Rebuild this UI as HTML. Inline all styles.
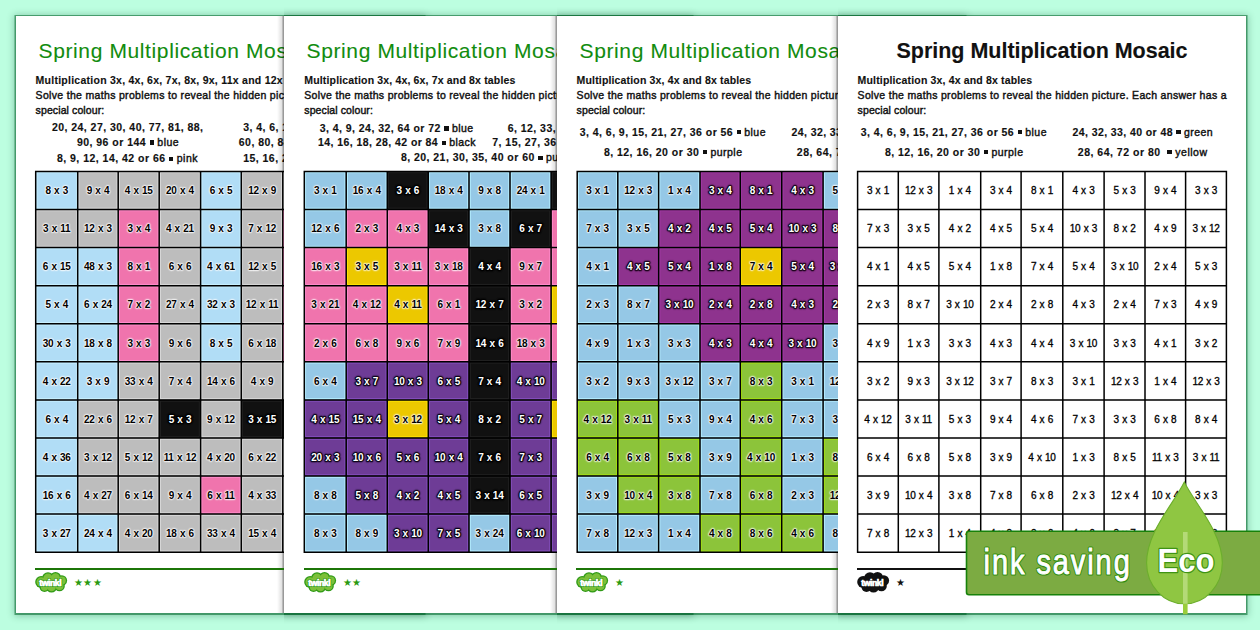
<!DOCTYPE html><html><head><meta charset="utf-8"><style>
*{margin:0;padding:0;box-sizing:border-box}
html,body{width:1260px;height:630px;overflow:hidden;background:#bcfee0;font-family:"Liberation Sans",sans-serif}
body{position:relative}
.pg{position:absolute;top:16px;width:408px;height:597px;background:#fff;overflow:hidden}
.psh{position:absolute;top:16px;width:408px;height:597px;box-shadow:0 0.5px 0 1.5px rgba(0,100,40,.55),0 1px 7px 2px rgba(20,80,50,.32)}
.lsh{position:absolute;top:16px;width:7px;height:597px;background:linear-gradient(to right,rgba(0,0,0,0),rgba(0,0,0,.12) 70%,rgba(0,0,0,.4) 86%,rgba(0,0,0,.4))}
.t{position:absolute;white-space:nowrap;line-height:1;-webkit-text-stroke:0.42px currentColor}
.t b{font-weight:bold;-webkit-text-stroke:0.15px currentColor}
.tb{-webkit-text-stroke:0.12px currentColor}
.sq{display:inline-block;width:0.42em;height:0.42em;background:#111;vertical-align:0.12em}
.gsv{position:absolute;overflow:visible}
.gsv text{font-family:"Liberation Sans",sans-serif;font-weight:bold;font-size:10.0px;text-anchor:middle;letter-spacing:-0.3px;word-spacing:0.9px}
.gsv .lt{fill:#000;stroke:rgba(255,255,255,.3);stroke-width:1.4px;paint-order:stroke;stroke-linejoin:round}
.gsv .bw{fill:#000;font-weight:normal;stroke:#000;stroke-width:.3px}
.gsv .dk{fill:#fff;stroke:#000;stroke-width:1.3px;paint-order:stroke;stroke-linejoin:round}
.gsv .dv2{stroke:#240a48;stroke-width:1.1px}
.gsv .dv3{stroke:#4a0a4a;stroke-width:1.1px}
.c{position:absolute;font-size:10px;font-weight:bold;display:flex;align-items:center;justify-content:center;line-height:1}
.lt{color:#000;text-shadow:0 0 2px #fff,0 0 2px #fff}
.bw{color:#000}
.dk{color:#fff;text-shadow:0 0 1.5px #000,0 0 1.5px #000,0 0 1px #000}
.fl{position:absolute;left:19px;top:552.3px;width:370px;height:1.8px}
.logo{position:absolute;left:19.2px;top:556.3px}
.stars{position:absolute;left:58px;top:562.3px;font-size:9.6px;letter-spacing:0.45px;line-height:1}

.ecosvg{position:absolute;left:940px;top:470px;z-index:100}
</style></head><body><div class="psh" style="left:16px;z-index:4;"></div>
<div class="pg" style="left:16px;z-index:5"><div class="t" id="t0" style="top:24.42px;font-size:21px;font-weight:normal;color:#118c0e;letter-spacing:0.624px;left:22.5px;-webkit-text-stroke:0.1px currentColor;">Spring Multiplication Mosaic</div>
<div class="t tb" id="t4" style="top:59.31px;font-size:10.5px;font-weight:bold;color:#111;letter-spacing:0.255px;left:19.6px;">Multiplication 3x, 4x, 6x, 7x, 8x, 9x, 11x and 12x tables</div>
<div class="t" id="t5" style="top:74.21px;font-size:10.5px;font-weight:normal;color:#111;letter-spacing:0.322px;left:19.6px;">Solve the maths problems to reveal the hidden picture. Each answer has a</div>
<div class="t" id="t6" style="top:88.71px;font-size:10.5px;font-weight:normal;color:#111;letter-spacing:0.105px;left:19.6px;">special colour:</div>
<div class="t" id="t16" style="top:106.41px;font-size:10.5px;font-weight:normal;color:#111;letter-spacing:0.463px;left:35.9px;"><b>20, 24, 27, 30, 40, 77, 81, 88,</b></div>
<div class="t" id="t17" style="top:121.01px;font-size:10.5px;font-weight:normal;color:#111;letter-spacing:0.475px;left:60.9px;"><b>90, 96 or 144 </b><span class="sq"></span> blue</div>
<div class="t" id="t18" style="top:137.31px;font-size:10.5px;font-weight:normal;color:#111;letter-spacing:0.482px;left:40.9px;"><b>8, 9, 12, 14, 42 or 66 </b><span class="sq"></span> pink</div>
<div class="t" id="t19" style="top:106.41px;font-size:10.5px;font-weight:normal;color:#111;letter-spacing:0.460px;left:227.2px;"><b>3, 4, 6, 18, 21, 28, 33, 36,</b></div>
<div class="t" id="t20" style="top:121.01px;font-size:10.5px;font-weight:normal;color:#111;letter-spacing:0.460px;left:222.8px;"><b>60, 80, 84, 99 or 132 </b><span class="sq"></span> grey</div>
<div class="t" id="t21" style="top:137.31px;font-size:10.5px;font-weight:normal;color:#111;letter-spacing:0.460px;left:227.2px;"><b>15, 16, 22, 44 or 45 </b><span class="sq"></span> black</div>
<div class="lsh" style="left:261px;top:0"></div>
<svg class="gsv" style="left:0;top:0" width="408" height="597"><rect x="19.70" y="155.40" width="42.00" height="38.08" fill="#b1ddf6"/><rect x="61.70" y="155.40" width="40.50" height="38.08" fill="#bdbdbd"/><rect x="102.20" y="155.40" width="41.00" height="38.08" fill="#bdbdbd"/><rect x="143.20" y="155.40" width="41.40" height="38.08" fill="#bdbdbd"/><rect x="184.60" y="155.40" width="40.70" height="38.08" fill="#b1ddf6"/><rect x="225.30" y="155.40" width="41.50" height="38.08" fill="#bdbdbd"/><rect x="266.80" y="155.40" width="41.20" height="38.08" fill="#bdbdbd"/><rect x="19.70" y="193.48" width="42.00" height="38.08" fill="#bdbdbd"/><rect x="61.70" y="193.48" width="40.50" height="38.08" fill="#bdbdbd"/><rect x="102.20" y="193.48" width="41.00" height="38.08" fill="#f074ad"/><rect x="143.20" y="193.48" width="41.40" height="38.08" fill="#bdbdbd"/><rect x="184.60" y="193.48" width="40.70" height="38.08" fill="#b1ddf6"/><rect x="225.30" y="193.48" width="41.50" height="38.08" fill="#bdbdbd"/><rect x="266.80" y="193.48" width="41.20" height="38.08" fill="#f074ad"/><rect x="19.70" y="231.56" width="42.00" height="38.08" fill="#b1ddf6"/><rect x="61.70" y="231.56" width="40.50" height="38.08" fill="#b1ddf6"/><rect x="102.20" y="231.56" width="41.00" height="38.08" fill="#f074ad"/><rect x="143.20" y="231.56" width="41.40" height="38.08" fill="#bdbdbd"/><rect x="184.60" y="231.56" width="40.70" height="38.08" fill="#b1ddf6"/><rect x="225.30" y="231.56" width="41.50" height="38.08" fill="#bdbdbd"/><rect x="266.80" y="231.56" width="41.20" height="38.08" fill="#f074ad"/><rect x="19.70" y="269.64" width="42.00" height="38.08" fill="#b1ddf6"/><rect x="61.70" y="269.64" width="40.50" height="38.08" fill="#b1ddf6"/><rect x="102.20" y="269.64" width="41.00" height="38.08" fill="#f074ad"/><rect x="143.20" y="269.64" width="41.40" height="38.08" fill="#bdbdbd"/><rect x="184.60" y="269.64" width="40.70" height="38.08" fill="#b1ddf6"/><rect x="225.30" y="269.64" width="41.50" height="38.08" fill="#bdbdbd"/><rect x="266.80" y="269.64" width="41.20" height="38.08" fill="#f074ad"/><rect x="19.70" y="307.72" width="42.00" height="38.08" fill="#b1ddf6"/><rect x="61.70" y="307.72" width="40.50" height="38.08" fill="#b1ddf6"/><rect x="102.20" y="307.72" width="41.00" height="38.08" fill="#f074ad"/><rect x="143.20" y="307.72" width="41.40" height="38.08" fill="#bdbdbd"/><rect x="184.60" y="307.72" width="40.70" height="38.08" fill="#b1ddf6"/><rect x="225.30" y="307.72" width="41.50" height="38.08" fill="#bdbdbd"/><rect x="266.80" y="307.72" width="41.20" height="38.08" fill="#f074ad"/><rect x="19.70" y="345.80" width="42.00" height="38.08" fill="#b1ddf6"/><rect x="61.70" y="345.80" width="40.50" height="38.08" fill="#b1ddf6"/><rect x="102.20" y="345.80" width="41.00" height="38.08" fill="#bdbdbd"/><rect x="143.20" y="345.80" width="41.40" height="38.08" fill="#bdbdbd"/><rect x="184.60" y="345.80" width="40.70" height="38.08" fill="#bdbdbd"/><rect x="225.30" y="345.80" width="41.50" height="38.08" fill="#bdbdbd"/><rect x="266.80" y="345.80" width="41.20" height="38.08" fill="#bdbdbd"/><rect x="19.70" y="383.88" width="42.00" height="38.08" fill="#b1ddf6"/><rect x="61.70" y="383.88" width="40.50" height="38.08" fill="#bdbdbd"/><rect x="102.20" y="383.88" width="41.00" height="38.08" fill="#bdbdbd"/><rect x="143.20" y="383.88" width="41.40" height="38.08" fill="#111111"/><rect x="184.60" y="383.88" width="40.70" height="38.08" fill="#bdbdbd"/><rect x="225.30" y="383.88" width="41.50" height="38.08" fill="#111111"/><rect x="266.80" y="383.88" width="41.20" height="38.08" fill="#111111"/><rect x="19.70" y="421.96" width="42.00" height="38.08" fill="#b1ddf6"/><rect x="61.70" y="421.96" width="40.50" height="38.08" fill="#bdbdbd"/><rect x="102.20" y="421.96" width="41.00" height="38.08" fill="#bdbdbd"/><rect x="143.20" y="421.96" width="41.40" height="38.08" fill="#bdbdbd"/><rect x="184.60" y="421.96" width="40.70" height="38.08" fill="#bdbdbd"/><rect x="225.30" y="421.96" width="41.50" height="38.08" fill="#bdbdbd"/><rect x="266.80" y="421.96" width="41.20" height="38.08" fill="#bdbdbd"/><rect x="19.70" y="460.04" width="42.00" height="38.08" fill="#b1ddf6"/><rect x="61.70" y="460.04" width="40.50" height="38.08" fill="#bdbdbd"/><rect x="102.20" y="460.04" width="41.00" height="38.08" fill="#bdbdbd"/><rect x="143.20" y="460.04" width="41.40" height="38.08" fill="#bdbdbd"/><rect x="184.60" y="460.04" width="40.70" height="38.08" fill="#f074ad"/><rect x="225.30" y="460.04" width="41.50" height="38.08" fill="#bdbdbd"/><rect x="266.80" y="460.04" width="41.20" height="38.08" fill="#bdbdbd"/><rect x="19.70" y="498.12" width="42.00" height="38.08" fill="#b1ddf6"/><rect x="61.70" y="498.12" width="40.50" height="38.08" fill="#b1ddf6"/><rect x="102.20" y="498.12" width="41.00" height="38.08" fill="#bdbdbd"/><rect x="143.20" y="498.12" width="41.40" height="38.08" fill="#bdbdbd"/><rect x="184.60" y="498.12" width="40.70" height="38.08" fill="#bdbdbd"/><rect x="225.30" y="498.12" width="41.50" height="38.08" fill="#bdbdbd"/><rect x="266.80" y="498.12" width="41.20" height="38.08" fill="#bdbdbd"/><rect x="20.95" y="156.65" width="39.50" height="35.58" fill="none" stroke="#c8f0ff" stroke-width="1"/><rect x="62.95" y="156.65" width="38.00" height="35.58" fill="none" stroke="#d8d8d8" stroke-width="1"/><rect x="103.45" y="156.65" width="38.50" height="35.58" fill="none" stroke="#d8d8d8" stroke-width="1"/><rect x="144.45" y="156.65" width="38.90" height="35.58" fill="none" stroke="#d8d8d8" stroke-width="1"/><rect x="185.85" y="156.65" width="38.20" height="35.58" fill="none" stroke="#c8f0ff" stroke-width="1"/><rect x="226.55" y="156.65" width="39.00" height="35.58" fill="none" stroke="#d8d8d8" stroke-width="1"/><rect x="268.05" y="156.65" width="38.70" height="35.58" fill="none" stroke="#d8d8d8" stroke-width="1"/><rect x="20.95" y="194.73" width="39.50" height="35.58" fill="none" stroke="#d8d8d8" stroke-width="1"/><rect x="62.95" y="194.73" width="38.00" height="35.58" fill="none" stroke="#d8d8d8" stroke-width="1"/><rect x="103.45" y="194.73" width="38.50" height="35.58" fill="none" stroke="#ff8ccc" stroke-width="1"/><rect x="144.45" y="194.73" width="38.90" height="35.58" fill="none" stroke="#d8d8d8" stroke-width="1"/><rect x="185.85" y="194.73" width="38.20" height="35.58" fill="none" stroke="#c8f0ff" stroke-width="1"/><rect x="226.55" y="194.73" width="39.00" height="35.58" fill="none" stroke="#d8d8d8" stroke-width="1"/><rect x="268.05" y="194.73" width="38.70" height="35.58" fill="none" stroke="#ff8ccc" stroke-width="1"/><rect x="20.95" y="232.81" width="39.50" height="35.58" fill="none" stroke="#c8f0ff" stroke-width="1"/><rect x="62.95" y="232.81" width="38.00" height="35.58" fill="none" stroke="#c8f0ff" stroke-width="1"/><rect x="103.45" y="232.81" width="38.50" height="35.58" fill="none" stroke="#ff8ccc" stroke-width="1"/><rect x="144.45" y="232.81" width="38.90" height="35.58" fill="none" stroke="#d8d8d8" stroke-width="1"/><rect x="185.85" y="232.81" width="38.20" height="35.58" fill="none" stroke="#c8f0ff" stroke-width="1"/><rect x="226.55" y="232.81" width="39.00" height="35.58" fill="none" stroke="#d8d8d8" stroke-width="1"/><rect x="268.05" y="232.81" width="38.70" height="35.58" fill="none" stroke="#ff8ccc" stroke-width="1"/><rect x="20.95" y="270.89" width="39.50" height="35.58" fill="none" stroke="#c8f0ff" stroke-width="1"/><rect x="62.95" y="270.89" width="38.00" height="35.58" fill="none" stroke="#c8f0ff" stroke-width="1"/><rect x="103.45" y="270.89" width="38.50" height="35.58" fill="none" stroke="#ff8ccc" stroke-width="1"/><rect x="144.45" y="270.89" width="38.90" height="35.58" fill="none" stroke="#d8d8d8" stroke-width="1"/><rect x="185.85" y="270.89" width="38.20" height="35.58" fill="none" stroke="#c8f0ff" stroke-width="1"/><rect x="226.55" y="270.89" width="39.00" height="35.58" fill="none" stroke="#d8d8d8" stroke-width="1"/><rect x="268.05" y="270.89" width="38.70" height="35.58" fill="none" stroke="#ff8ccc" stroke-width="1"/><rect x="20.95" y="308.97" width="39.50" height="35.58" fill="none" stroke="#c8f0ff" stroke-width="1"/><rect x="62.95" y="308.97" width="38.00" height="35.58" fill="none" stroke="#c8f0ff" stroke-width="1"/><rect x="103.45" y="308.97" width="38.50" height="35.58" fill="none" stroke="#ff8ccc" stroke-width="1"/><rect x="144.45" y="308.97" width="38.90" height="35.58" fill="none" stroke="#d8d8d8" stroke-width="1"/><rect x="185.85" y="308.97" width="38.20" height="35.58" fill="none" stroke="#c8f0ff" stroke-width="1"/><rect x="226.55" y="308.97" width="39.00" height="35.58" fill="none" stroke="#d8d8d8" stroke-width="1"/><rect x="268.05" y="308.97" width="38.70" height="35.58" fill="none" stroke="#ff8ccc" stroke-width="1"/><rect x="20.95" y="347.05" width="39.50" height="35.58" fill="none" stroke="#c8f0ff" stroke-width="1"/><rect x="62.95" y="347.05" width="38.00" height="35.58" fill="none" stroke="#c8f0ff" stroke-width="1"/><rect x="103.45" y="347.05" width="38.50" height="35.58" fill="none" stroke="#d8d8d8" stroke-width="1"/><rect x="144.45" y="347.05" width="38.90" height="35.58" fill="none" stroke="#d8d8d8" stroke-width="1"/><rect x="185.85" y="347.05" width="38.20" height="35.58" fill="none" stroke="#d8d8d8" stroke-width="1"/><rect x="226.55" y="347.05" width="39.00" height="35.58" fill="none" stroke="#d8d8d8" stroke-width="1"/><rect x="268.05" y="347.05" width="38.70" height="35.58" fill="none" stroke="#d8d8d8" stroke-width="1"/><rect x="20.95" y="385.13" width="39.50" height="35.58" fill="none" stroke="#c8f0ff" stroke-width="1"/><rect x="62.95" y="385.13" width="38.00" height="35.58" fill="none" stroke="#d8d8d8" stroke-width="1"/><rect x="103.45" y="385.13" width="38.50" height="35.58" fill="none" stroke="#d8d8d8" stroke-width="1"/><rect x="144.45" y="385.13" width="38.90" height="35.58" fill="none" stroke="#222" stroke-width="1"/><rect x="185.85" y="385.13" width="38.20" height="35.58" fill="none" stroke="#d8d8d8" stroke-width="1"/><rect x="226.55" y="385.13" width="39.00" height="35.58" fill="none" stroke="#222" stroke-width="1"/><rect x="268.05" y="385.13" width="38.70" height="35.58" fill="none" stroke="#222" stroke-width="1"/><rect x="20.95" y="423.21" width="39.50" height="35.58" fill="none" stroke="#c8f0ff" stroke-width="1"/><rect x="62.95" y="423.21" width="38.00" height="35.58" fill="none" stroke="#d8d8d8" stroke-width="1"/><rect x="103.45" y="423.21" width="38.50" height="35.58" fill="none" stroke="#d8d8d8" stroke-width="1"/><rect x="144.45" y="423.21" width="38.90" height="35.58" fill="none" stroke="#d8d8d8" stroke-width="1"/><rect x="185.85" y="423.21" width="38.20" height="35.58" fill="none" stroke="#d8d8d8" stroke-width="1"/><rect x="226.55" y="423.21" width="39.00" height="35.58" fill="none" stroke="#d8d8d8" stroke-width="1"/><rect x="268.05" y="423.21" width="38.70" height="35.58" fill="none" stroke="#d8d8d8" stroke-width="1"/><rect x="20.95" y="461.29" width="39.50" height="35.58" fill="none" stroke="#c8f0ff" stroke-width="1"/><rect x="62.95" y="461.29" width="38.00" height="35.58" fill="none" stroke="#d8d8d8" stroke-width="1"/><rect x="103.45" y="461.29" width="38.50" height="35.58" fill="none" stroke="#d8d8d8" stroke-width="1"/><rect x="144.45" y="461.29" width="38.90" height="35.58" fill="none" stroke="#d8d8d8" stroke-width="1"/><rect x="185.85" y="461.29" width="38.20" height="35.58" fill="none" stroke="#ff8ccc" stroke-width="1"/><rect x="226.55" y="461.29" width="39.00" height="35.58" fill="none" stroke="#d8d8d8" stroke-width="1"/><rect x="268.05" y="461.29" width="38.70" height="35.58" fill="none" stroke="#d8d8d8" stroke-width="1"/><rect x="20.95" y="499.37" width="39.50" height="35.58" fill="none" stroke="#c8f0ff" stroke-width="1"/><rect x="62.95" y="499.37" width="38.00" height="35.58" fill="none" stroke="#c8f0ff" stroke-width="1"/><rect x="103.45" y="499.37" width="38.50" height="35.58" fill="none" stroke="#d8d8d8" stroke-width="1"/><rect x="144.45" y="499.37" width="38.90" height="35.58" fill="none" stroke="#d8d8d8" stroke-width="1"/><rect x="185.85" y="499.37" width="38.20" height="35.58" fill="none" stroke="#d8d8d8" stroke-width="1"/><rect x="226.55" y="499.37" width="39.00" height="35.58" fill="none" stroke="#d8d8d8" stroke-width="1"/><rect x="268.05" y="499.37" width="38.70" height="35.58" fill="none" stroke="#d8d8d8" stroke-width="1"/><path d="M19.70 155.40V536.20M61.70 155.40V536.20M102.20 155.40V536.20M143.20 155.40V536.20M184.60 155.40V536.20M225.30 155.40V536.20M266.80 155.40V536.20M308.00 155.40V536.20M19.70 155.40H308.00M19.70 193.48H308.00M19.70 231.56H308.00M19.70 269.64H308.00M19.70 307.72H308.00M19.70 345.80H308.00M19.70 383.88H308.00M19.70 421.96H308.00M19.70 460.04H308.00M19.70 498.12H308.00M19.70 536.20H308.00" stroke="#000" stroke-width="1.5" fill="none" stroke-linecap="square"/><text class="lt" x="40.70" y="178.19">8 x 3</text><text class="lt" x="81.95" y="178.19">9 x 4</text><text class="lt" x="122.70" y="178.19">4 x 15</text><text class="lt" x="163.90" y="178.19">20 x 4</text><text class="lt" x="204.95" y="178.19">6 x 5</text><text class="lt" x="246.05" y="178.19">12 x 9</text><text class="lt" x="287.40" y="178.19">9 x 9</text><text class="lt" x="40.70" y="216.27">3 x 11</text><text class="lt" x="81.95" y="216.27">12 x 3</text><text class="lt" x="122.70" y="216.27">3 x 4</text><text class="lt" x="163.90" y="216.27">4 x 21</text><text class="lt" x="204.95" y="216.27">9 x 3</text><text class="lt" x="246.05" y="216.27">7 x 12</text><text class="lt" x="287.40" y="216.27">3 x 3</text><text class="lt" x="40.70" y="254.35">6 x 15</text><text class="lt" x="81.95" y="254.35">48 x 3</text><text class="lt" x="122.70" y="254.35">8 x 1</text><text class="lt" x="163.90" y="254.35">6 x 6</text><text class="lt" x="204.95" y="254.35">4 x 61</text><text class="lt" x="246.05" y="254.35">12 x 5</text><text class="lt" x="287.40" y="254.35">3 x 3</text><text class="lt" x="40.70" y="292.43">5 x 4</text><text class="lt" x="81.95" y="292.43">6 x 24</text><text class="lt" x="122.70" y="292.43">7 x 2</text><text class="lt" x="163.90" y="292.43">27 x 4</text><text class="lt" x="204.95" y="292.43">32 x 3</text><text class="lt" x="246.05" y="292.43">12 x 11</text><text class="lt" x="287.40" y="292.43">3 x 3</text><text class="lt" x="40.70" y="330.51">30 x 3</text><text class="lt" x="81.95" y="330.51">18 x 8</text><text class="lt" x="122.70" y="330.51">3 x 3</text><text class="lt" x="163.90" y="330.51">9 x 6</text><text class="lt" x="204.95" y="330.51">8 x 5</text><text class="lt" x="246.05" y="330.51">6 x 18</text><text class="lt" x="287.40" y="330.51">3 x 3</text><text class="lt" x="40.70" y="368.59">4 x 22</text><text class="lt" x="81.95" y="368.59">3 x 9</text><text class="lt" x="122.70" y="368.59">33 x 4</text><text class="lt" x="163.90" y="368.59">7 x 4</text><text class="lt" x="204.95" y="368.59">14 x 6</text><text class="lt" x="246.05" y="368.59">4 x 9</text><text class="lt" x="287.40" y="368.59">9 x 9</text><text class="lt" x="40.70" y="406.67">6 x 4</text><text class="lt" x="81.95" y="406.67">22 x 6</text><text class="lt" x="122.70" y="406.67">12 x 7</text><text class="dk" x="163.90" y="406.67">5 x 3</text><text class="lt" x="204.95" y="406.67">9 x 12</text><text class="dk" x="246.05" y="406.67">3 x 15</text><text class="dk" x="287.40" y="406.67">9 x 9</text><text class="lt" x="40.70" y="444.75">4 x 36</text><text class="lt" x="81.95" y="444.75">3 x 12</text><text class="lt" x="122.70" y="444.75">5 x 12</text><text class="lt" x="163.90" y="444.75">11 x 12</text><text class="lt" x="204.95" y="444.75">4 x 20</text><text class="lt" x="246.05" y="444.75">6 x 22</text><text class="lt" x="287.40" y="444.75">9 x 9</text><text class="lt" x="40.70" y="482.83">16 x 6</text><text class="lt" x="81.95" y="482.83">4 x 27</text><text class="lt" x="122.70" y="482.83">6 x 14</text><text class="lt" x="163.90" y="482.83">9 x 4</text><text class="lt" x="204.95" y="482.83">6 x 11</text><text class="lt" x="246.05" y="482.83">4 x 33</text><text class="lt" x="287.40" y="482.83">9 x 9</text><text class="lt" x="40.70" y="520.91">3 x 27</text><text class="lt" x="81.95" y="520.91">24 x 4</text><text class="lt" x="122.70" y="520.91">4 x 20</text><text class="lt" x="163.90" y="520.91">18 x 6</text><text class="lt" x="204.95" y="520.91">33 x 4</text><text class="lt" x="246.05" y="520.91">15 x 4</text><text class="lt" x="287.40" y="520.91">9 x 9</text></svg>
<div style="position:absolute;left:0px;top:0">
<div class="fl" style="background:#1c7508"></div>
<svg class="logo" width="33" height="21" viewBox="0 0 33 21"><g fill="#2f9a16"><circle cx="6.2" cy="10" r="6"/><circle cx="13" cy="6.2" r="6"/><circle cx="20.5" cy="5.5" r="5.5"/><circle cx="26.8" cy="8.6" r="5.3"/><circle cx="24.5" cy="14" r="5.3"/><circle cx="16.5" cy="15" r="5.6"/><circle cx="9.5" cy="15" r="5"/></g><g fill="#7cc03a"><circle cx="6.2" cy="10" r="4.7"/><circle cx="13" cy="6.2" r="4.7"/><circle cx="20.5" cy="5.5" r="4.2"/><circle cx="26.8" cy="8.6" r="4.0"/><circle cx="24.5" cy="14" r="4.0"/><circle cx="16.5" cy="15" r="4.3"/><circle cx="9.5" cy="15" r="3.7"/></g><text x="15.2" y="13.6" text-anchor="middle" font-family="Liberation Sans" font-weight="bold" font-size="8.6" fill="#fff" stroke="#2f9a16" stroke-width="2" paint-order="stroke" stroke-linejoin="round" letter-spacing="-0.4">twinkl</text><text x="15.2" y="13.6" text-anchor="middle" font-family="Liberation Sans" font-weight="bold" font-size="8.6" fill="#fff" stroke="#fff" stroke-width="0.45" letter-spacing="-0.4">twinkl</text></svg>
<div class="stars" style="color:#2a9a10">★★★</div>
</div></div>
<div class="psh" style="left:284px;z-index:14;clip-path:inset(-12px -12px -12px 0);"></div>
<div class="pg" style="left:284px;z-index:15"><div class="t" id="t1" style="top:24.42px;font-size:21px;font-weight:normal;color:#118c0e;letter-spacing:0.624px;left:22.5px;-webkit-text-stroke:0.1px currentColor;">Spring Multiplication Mosaic</div>
<div class="t tb" id="t7" style="top:59.31px;font-size:10.5px;font-weight:bold;color:#111;letter-spacing:0.161px;left:20.3px;">Multiplication 3x, 4x, 6x, 7x and 8x tables</div>
<div class="t" id="t8" style="top:74.21px;font-size:10.5px;font-weight:normal;color:#111;letter-spacing:0.322px;left:20.3px;">Solve the maths problems to reveal the hidden picture. Each answer has a</div>
<div class="t" id="t9" style="top:88.71px;font-size:10.5px;font-weight:normal;color:#111;letter-spacing:0.105px;left:20.3px;">special colour:</div>
<div class="t" id="t22" style="top:106.81px;font-size:10.5px;font-weight:normal;color:#111;letter-spacing:0.455px;left:35.7px;"><b>3, 4, 9, 24, 32, 64 or 72 </b><span class="sq"></span> blue</div>
<div class="t" id="t23" style="top:121.31px;font-size:10.5px;font-weight:normal;color:#111;letter-spacing:0.433px;left:34px;"><b>14, 16, 18, 28, 42 or 84 </b><span class="sq"></span> black</div>
<div class="t" id="t24" style="top:136.31px;font-size:10.5px;font-weight:normal;color:#111;letter-spacing:0.460px;left:116.9px;"><b>8, 20, 21, 30, 35, 40 or 60 </b><span class="sq"></span> purple</div>
<div class="t" id="t25" style="top:106.81px;font-size:10.5px;font-weight:normal;color:#111;letter-spacing:0.460px;left:223.7px;"><b>6, 12, 33, 36 or 48 </b><span class="sq"></span> pink</div>
<div class="t" id="t26" style="top:121.31px;font-size:10.5px;font-weight:normal;color:#111;letter-spacing:0.460px;left:208.3px;"><b>7, 15, 27, 36, 44 or 66 </b><span class="sq"></span> yellow</div>
<div class="lsh" style="left:266px;top:0"></div>
<svg class="gsv" style="left:0;top:0" width="408" height="597"><rect x="20.30" y="155.40" width="41.90" height="38.08" fill="#95c8e6"/><rect x="62.20" y="155.40" width="41.10" height="38.08" fill="#95c8e6"/><rect x="103.30" y="155.40" width="41.00" height="38.08" fill="#111111"/><rect x="144.30" y="155.40" width="40.70" height="38.08" fill="#95c8e6"/><rect x="185.00" y="155.40" width="41.00" height="38.08" fill="#95c8e6"/><rect x="226.00" y="155.40" width="41.10" height="38.08" fill="#95c8e6"/><rect x="267.10" y="155.40" width="41.10" height="38.08" fill="#111111"/><rect x="20.30" y="193.48" width="41.90" height="38.08" fill="#95c8e6"/><rect x="62.20" y="193.48" width="41.10" height="38.08" fill="#f074ad"/><rect x="103.30" y="193.48" width="41.00" height="38.08" fill="#f074ad"/><rect x="144.30" y="193.48" width="40.70" height="38.08" fill="#111111"/><rect x="185.00" y="193.48" width="41.00" height="38.08" fill="#95c8e6"/><rect x="226.00" y="193.48" width="41.10" height="38.08" fill="#111111"/><rect x="267.10" y="193.48" width="41.10" height="38.08" fill="#f074ad"/><rect x="20.30" y="231.56" width="41.90" height="38.08" fill="#f074ad"/><rect x="62.20" y="231.56" width="41.10" height="38.08" fill="#ecc800"/><rect x="103.30" y="231.56" width="41.00" height="38.08" fill="#f074ad"/><rect x="144.30" y="231.56" width="40.70" height="38.08" fill="#f074ad"/><rect x="185.00" y="231.56" width="41.00" height="38.08" fill="#111111"/><rect x="226.00" y="231.56" width="41.10" height="38.08" fill="#f074ad"/><rect x="267.10" y="231.56" width="41.10" height="38.08" fill="#f074ad"/><rect x="20.30" y="269.64" width="41.90" height="38.08" fill="#f074ad"/><rect x="62.20" y="269.64" width="41.10" height="38.08" fill="#f074ad"/><rect x="103.30" y="269.64" width="41.00" height="38.08" fill="#ecc800"/><rect x="144.30" y="269.64" width="40.70" height="38.08" fill="#f074ad"/><rect x="185.00" y="269.64" width="41.00" height="38.08" fill="#111111"/><rect x="226.00" y="269.64" width="41.10" height="38.08" fill="#f074ad"/><rect x="267.10" y="269.64" width="41.10" height="38.08" fill="#ecc800"/><rect x="20.30" y="307.72" width="41.90" height="38.08" fill="#f074ad"/><rect x="62.20" y="307.72" width="41.10" height="38.08" fill="#f074ad"/><rect x="103.30" y="307.72" width="41.00" height="38.08" fill="#f074ad"/><rect x="144.30" y="307.72" width="40.70" height="38.08" fill="#f074ad"/><rect x="185.00" y="307.72" width="41.00" height="38.08" fill="#111111"/><rect x="226.00" y="307.72" width="41.10" height="38.08" fill="#f074ad"/><rect x="267.10" y="307.72" width="41.10" height="38.08" fill="#f074ad"/><rect x="20.30" y="345.80" width="41.90" height="38.08" fill="#95c8e6"/><rect x="62.20" y="345.80" width="41.10" height="38.08" fill="#6e3c96"/><rect x="103.30" y="345.80" width="41.00" height="38.08" fill="#6e3c96"/><rect x="144.30" y="345.80" width="40.70" height="38.08" fill="#6e3c96"/><rect x="185.00" y="345.80" width="41.00" height="38.08" fill="#111111"/><rect x="226.00" y="345.80" width="41.10" height="38.08" fill="#6e3c96"/><rect x="267.10" y="345.80" width="41.10" height="38.08" fill="#6e3c96"/><rect x="20.30" y="383.88" width="41.90" height="38.08" fill="#6e3c96"/><rect x="62.20" y="383.88" width="41.10" height="38.08" fill="#6e3c96"/><rect x="103.30" y="383.88" width="41.00" height="38.08" fill="#ecc800"/><rect x="144.30" y="383.88" width="40.70" height="38.08" fill="#6e3c96"/><rect x="185.00" y="383.88" width="41.00" height="38.08" fill="#111111"/><rect x="226.00" y="383.88" width="41.10" height="38.08" fill="#6e3c96"/><rect x="267.10" y="383.88" width="41.10" height="38.08" fill="#ecc800"/><rect x="20.30" y="421.96" width="41.90" height="38.08" fill="#6e3c96"/><rect x="62.20" y="421.96" width="41.10" height="38.08" fill="#6e3c96"/><rect x="103.30" y="421.96" width="41.00" height="38.08" fill="#6e3c96"/><rect x="144.30" y="421.96" width="40.70" height="38.08" fill="#6e3c96"/><rect x="185.00" y="421.96" width="41.00" height="38.08" fill="#111111"/><rect x="226.00" y="421.96" width="41.10" height="38.08" fill="#6e3c96"/><rect x="267.10" y="421.96" width="41.10" height="38.08" fill="#6e3c96"/><rect x="20.30" y="460.04" width="41.90" height="38.08" fill="#95c8e6"/><rect x="62.20" y="460.04" width="41.10" height="38.08" fill="#6e3c96"/><rect x="103.30" y="460.04" width="41.00" height="38.08" fill="#6e3c96"/><rect x="144.30" y="460.04" width="40.70" height="38.08" fill="#6e3c96"/><rect x="185.00" y="460.04" width="41.00" height="38.08" fill="#111111"/><rect x="226.00" y="460.04" width="41.10" height="38.08" fill="#6e3c96"/><rect x="267.10" y="460.04" width="41.10" height="38.08" fill="#6e3c96"/><rect x="20.30" y="498.12" width="41.90" height="38.08" fill="#95c8e6"/><rect x="62.20" y="498.12" width="41.10" height="38.08" fill="#95c8e6"/><rect x="103.30" y="498.12" width="41.00" height="38.08" fill="#6e3c96"/><rect x="144.30" y="498.12" width="40.70" height="38.08" fill="#6e3c96"/><rect x="185.00" y="498.12" width="41.00" height="38.08" fill="#95c8e6"/><rect x="226.00" y="498.12" width="41.10" height="38.08" fill="#6e3c96"/><rect x="267.10" y="498.12" width="41.10" height="38.08" fill="#6e3c96"/><rect x="21.55" y="156.65" width="39.40" height="35.58" fill="none" stroke="#b5eeff" stroke-width="1"/><rect x="63.45" y="156.65" width="38.60" height="35.58" fill="none" stroke="#b5eeff" stroke-width="1"/><rect x="104.55" y="156.65" width="38.50" height="35.58" fill="none" stroke="#222" stroke-width="1"/><rect x="145.55" y="156.65" width="38.20" height="35.58" fill="none" stroke="#b5eeff" stroke-width="1"/><rect x="186.25" y="156.65" width="38.50" height="35.58" fill="none" stroke="#b5eeff" stroke-width="1"/><rect x="227.25" y="156.65" width="38.60" height="35.58" fill="none" stroke="#b5eeff" stroke-width="1"/><rect x="268.35" y="156.65" width="38.60" height="35.58" fill="none" stroke="#222" stroke-width="1"/><rect x="21.55" y="194.73" width="39.40" height="35.58" fill="none" stroke="#b5eeff" stroke-width="1"/><rect x="63.45" y="194.73" width="38.60" height="35.58" fill="none" stroke="#ff8ccc" stroke-width="1"/><rect x="104.55" y="194.73" width="38.50" height="35.58" fill="none" stroke="#ff8ccc" stroke-width="1"/><rect x="145.55" y="194.73" width="38.20" height="35.58" fill="none" stroke="#222" stroke-width="1"/><rect x="186.25" y="194.73" width="38.50" height="35.58" fill="none" stroke="#b5eeff" stroke-width="1"/><rect x="227.25" y="194.73" width="38.60" height="35.58" fill="none" stroke="#222" stroke-width="1"/><rect x="268.35" y="194.73" width="38.60" height="35.58" fill="none" stroke="#ff8ccc" stroke-width="1"/><rect x="21.55" y="232.81" width="39.40" height="35.58" fill="none" stroke="#ff8ccc" stroke-width="1"/><rect x="63.45" y="232.81" width="38.60" height="35.58" fill="none" stroke="#ffe400" stroke-width="1"/><rect x="104.55" y="232.81" width="38.50" height="35.58" fill="none" stroke="#ff8ccc" stroke-width="1"/><rect x="145.55" y="232.81" width="38.20" height="35.58" fill="none" stroke="#ff8ccc" stroke-width="1"/><rect x="186.25" y="232.81" width="38.50" height="35.58" fill="none" stroke="#222" stroke-width="1"/><rect x="227.25" y="232.81" width="38.60" height="35.58" fill="none" stroke="#ff8ccc" stroke-width="1"/><rect x="268.35" y="232.81" width="38.60" height="35.58" fill="none" stroke="#ff8ccc" stroke-width="1"/><rect x="21.55" y="270.89" width="39.40" height="35.58" fill="none" stroke="#ff8ccc" stroke-width="1"/><rect x="63.45" y="270.89" width="38.60" height="35.58" fill="none" stroke="#ff8ccc" stroke-width="1"/><rect x="104.55" y="270.89" width="38.50" height="35.58" fill="none" stroke="#ffe400" stroke-width="1"/><rect x="145.55" y="270.89" width="38.20" height="35.58" fill="none" stroke="#ff8ccc" stroke-width="1"/><rect x="186.25" y="270.89" width="38.50" height="35.58" fill="none" stroke="#222" stroke-width="1"/><rect x="227.25" y="270.89" width="38.60" height="35.58" fill="none" stroke="#ff8ccc" stroke-width="1"/><rect x="268.35" y="270.89" width="38.60" height="35.58" fill="none" stroke="#ffe400" stroke-width="1"/><rect x="21.55" y="308.97" width="39.40" height="35.58" fill="none" stroke="#ff8ccc" stroke-width="1"/><rect x="63.45" y="308.97" width="38.60" height="35.58" fill="none" stroke="#ff8ccc" stroke-width="1"/><rect x="104.55" y="308.97" width="38.50" height="35.58" fill="none" stroke="#ff8ccc" stroke-width="1"/><rect x="145.55" y="308.97" width="38.20" height="35.58" fill="none" stroke="#ff8ccc" stroke-width="1"/><rect x="186.25" y="308.97" width="38.50" height="35.58" fill="none" stroke="#222" stroke-width="1"/><rect x="227.25" y="308.97" width="38.60" height="35.58" fill="none" stroke="#ff8ccc" stroke-width="1"/><rect x="268.35" y="308.97" width="38.60" height="35.58" fill="none" stroke="#ff8ccc" stroke-width="1"/><rect x="21.55" y="347.05" width="39.40" height="35.58" fill="none" stroke="#b5eeff" stroke-width="1"/><rect x="63.45" y="347.05" width="38.60" height="35.58" fill="none" stroke="#8650c0" stroke-width="1"/><rect x="104.55" y="347.05" width="38.50" height="35.58" fill="none" stroke="#8650c0" stroke-width="1"/><rect x="145.55" y="347.05" width="38.20" height="35.58" fill="none" stroke="#8650c0" stroke-width="1"/><rect x="186.25" y="347.05" width="38.50" height="35.58" fill="none" stroke="#222" stroke-width="1"/><rect x="227.25" y="347.05" width="38.60" height="35.58" fill="none" stroke="#8650c0" stroke-width="1"/><rect x="268.35" y="347.05" width="38.60" height="35.58" fill="none" stroke="#8650c0" stroke-width="1"/><rect x="21.55" y="385.13" width="39.40" height="35.58" fill="none" stroke="#8650c0" stroke-width="1"/><rect x="63.45" y="385.13" width="38.60" height="35.58" fill="none" stroke="#8650c0" stroke-width="1"/><rect x="104.55" y="385.13" width="38.50" height="35.58" fill="none" stroke="#ffe400" stroke-width="1"/><rect x="145.55" y="385.13" width="38.20" height="35.58" fill="none" stroke="#8650c0" stroke-width="1"/><rect x="186.25" y="385.13" width="38.50" height="35.58" fill="none" stroke="#222" stroke-width="1"/><rect x="227.25" y="385.13" width="38.60" height="35.58" fill="none" stroke="#8650c0" stroke-width="1"/><rect x="268.35" y="385.13" width="38.60" height="35.58" fill="none" stroke="#ffe400" stroke-width="1"/><rect x="21.55" y="423.21" width="39.40" height="35.58" fill="none" stroke="#8650c0" stroke-width="1"/><rect x="63.45" y="423.21" width="38.60" height="35.58" fill="none" stroke="#8650c0" stroke-width="1"/><rect x="104.55" y="423.21" width="38.50" height="35.58" fill="none" stroke="#8650c0" stroke-width="1"/><rect x="145.55" y="423.21" width="38.20" height="35.58" fill="none" stroke="#8650c0" stroke-width="1"/><rect x="186.25" y="423.21" width="38.50" height="35.58" fill="none" stroke="#222" stroke-width="1"/><rect x="227.25" y="423.21" width="38.60" height="35.58" fill="none" stroke="#8650c0" stroke-width="1"/><rect x="268.35" y="423.21" width="38.60" height="35.58" fill="none" stroke="#8650c0" stroke-width="1"/><rect x="21.55" y="461.29" width="39.40" height="35.58" fill="none" stroke="#b5eeff" stroke-width="1"/><rect x="63.45" y="461.29" width="38.60" height="35.58" fill="none" stroke="#8650c0" stroke-width="1"/><rect x="104.55" y="461.29" width="38.50" height="35.58" fill="none" stroke="#8650c0" stroke-width="1"/><rect x="145.55" y="461.29" width="38.20" height="35.58" fill="none" stroke="#8650c0" stroke-width="1"/><rect x="186.25" y="461.29" width="38.50" height="35.58" fill="none" stroke="#222" stroke-width="1"/><rect x="227.25" y="461.29" width="38.60" height="35.58" fill="none" stroke="#8650c0" stroke-width="1"/><rect x="268.35" y="461.29" width="38.60" height="35.58" fill="none" stroke="#8650c0" stroke-width="1"/><rect x="21.55" y="499.37" width="39.40" height="35.58" fill="none" stroke="#b5eeff" stroke-width="1"/><rect x="63.45" y="499.37" width="38.60" height="35.58" fill="none" stroke="#b5eeff" stroke-width="1"/><rect x="104.55" y="499.37" width="38.50" height="35.58" fill="none" stroke="#8650c0" stroke-width="1"/><rect x="145.55" y="499.37" width="38.20" height="35.58" fill="none" stroke="#8650c0" stroke-width="1"/><rect x="186.25" y="499.37" width="38.50" height="35.58" fill="none" stroke="#b5eeff" stroke-width="1"/><rect x="227.25" y="499.37" width="38.60" height="35.58" fill="none" stroke="#8650c0" stroke-width="1"/><rect x="268.35" y="499.37" width="38.60" height="35.58" fill="none" stroke="#8650c0" stroke-width="1"/><path d="M20.30 155.40V536.20M62.20 155.40V536.20M103.30 155.40V536.20M144.30 155.40V536.20M185.00 155.40V536.20M226.00 155.40V536.20M267.10 155.40V536.20M308.20 155.40V536.20M20.30 155.40H308.20M20.30 193.48H308.20M20.30 231.56H308.20M20.30 269.64H308.20M20.30 307.72H308.20M20.30 345.80H308.20M20.30 383.88H308.20M20.30 421.96H308.20M20.30 460.04H308.20M20.30 498.12H308.20M20.30 536.20H308.20" stroke="#000" stroke-width="1.5" fill="none" stroke-linecap="square"/><text class="lt" x="41.25" y="178.19">3 x 1</text><text class="lt" x="82.75" y="178.19">16 x 4</text><text class="dk" x="123.80" y="178.19">3 x 6</text><text class="lt" x="164.65" y="178.19">18 x 4</text><text class="lt" x="205.50" y="178.19">9 x 8</text><text class="lt" x="246.55" y="178.19">24 x 1</text><text class="dk" x="287.65" y="178.19">7 x 2</text><text class="lt" x="41.25" y="216.27">12 x 6</text><text class="lt" x="82.75" y="216.27">2 x 3</text><text class="lt" x="123.80" y="216.27">4 x 3</text><text class="dk" x="164.65" y="216.27">14 x 3</text><text class="lt" x="205.50" y="216.27">3 x 8</text><text class="dk" x="246.55" y="216.27">6 x 7</text><text class="lt" x="287.65" y="216.27">3 x 2</text><text class="lt" x="41.25" y="254.35">16 x 3</text><text class="lt" x="82.75" y="254.35">3 x 5</text><text class="lt" x="123.80" y="254.35">3 x 11</text><text class="lt" x="164.65" y="254.35">3 x 18</text><text class="dk" x="205.50" y="254.35">4 x 4</text><text class="lt" x="246.55" y="254.35">9 x 7</text><text class="lt" x="287.65" y="254.35">3 x 2</text><text class="lt" x="41.25" y="292.43">3 x 21</text><text class="lt" x="82.75" y="292.43">4 x 12</text><text class="lt" x="123.80" y="292.43">4 x 11</text><text class="lt" x="164.65" y="292.43">6 x 1</text><text class="dk" x="205.50" y="292.43">12 x 7</text><text class="lt" x="246.55" y="292.43">3 x 2</text><text class="lt" x="287.65" y="292.43">5 x 3</text><text class="lt" x="41.25" y="330.51">2 x 6</text><text class="lt" x="82.75" y="330.51">6 x 8</text><text class="lt" x="123.80" y="330.51">9 x 6</text><text class="lt" x="164.65" y="330.51">7 x 9</text><text class="dk" x="205.50" y="330.51">14 x 6</text><text class="lt" x="246.55" y="330.51">18 x 3</text><text class="lt" x="287.65" y="330.51">3 x 2</text><text class="lt" x="41.25" y="368.59">6 x 4</text><text class="dk dv2" x="82.75" y="368.59">3 x 7</text><text class="dk dv2" x="123.80" y="368.59">10 x 3</text><text class="dk dv2" x="164.65" y="368.59">6 x 5</text><text class="dk" x="205.50" y="368.59">7 x 4</text><text class="dk dv2" x="246.55" y="368.59">4 x 10</text><text class="dk dv2" x="287.65" y="368.59">5 x 4</text><text class="dk dv2" x="41.25" y="406.67">4 x 15</text><text class="dk dv2" x="82.75" y="406.67">15 x 4</text><text class="lt" x="123.80" y="406.67">3 x 12</text><text class="dk dv2" x="164.65" y="406.67">5 x 4</text><text class="dk" x="205.50" y="406.67">8 x 2</text><text class="dk dv2" x="246.55" y="406.67">5 x 7</text><text class="lt" x="287.65" y="406.67">5 x 3</text><text class="dk dv2" x="41.25" y="444.75">20 x 3</text><text class="dk dv2" x="82.75" y="444.75">10 x 6</text><text class="dk dv2" x="123.80" y="444.75">5 x 6</text><text class="dk dv2" x="164.65" y="444.75">10 x 4</text><text class="dk" x="205.50" y="444.75">7 x 6</text><text class="dk dv2" x="246.55" y="444.75">7 x 3</text><text class="dk dv2" x="287.65" y="444.75">5 x 4</text><text class="lt" x="41.25" y="482.83">8 x 8</text><text class="dk dv2" x="82.75" y="482.83">5 x 8</text><text class="dk dv2" x="123.80" y="482.83">4 x 2</text><text class="dk dv2" x="164.65" y="482.83">4 x 5</text><text class="dk" x="205.50" y="482.83">3 x 14</text><text class="dk dv2" x="246.55" y="482.83">6 x 5</text><text class="dk dv2" x="287.65" y="482.83">5 x 4</text><text class="lt" x="41.25" y="520.91">8 x 3</text><text class="lt" x="82.75" y="520.91">8 x 9</text><text class="dk dv2" x="123.80" y="520.91">3 x 10</text><text class="dk dv2" x="164.65" y="520.91">7 x 5</text><text class="lt" x="205.50" y="520.91">3 x 24</text><text class="dk dv2" x="246.55" y="520.91">6 x 10</text><text class="dk dv2" x="287.65" y="520.91">5 x 4</text></svg>
<div style="position:absolute;left:0.8px;top:0">
<div class="fl" style="background:#1c7508"></div>
<svg class="logo" width="33" height="21" viewBox="0 0 33 21"><g fill="#2f9a16"><circle cx="6.2" cy="10" r="6"/><circle cx="13" cy="6.2" r="6"/><circle cx="20.5" cy="5.5" r="5.5"/><circle cx="26.8" cy="8.6" r="5.3"/><circle cx="24.5" cy="14" r="5.3"/><circle cx="16.5" cy="15" r="5.6"/><circle cx="9.5" cy="15" r="5"/></g><g fill="#7cc03a"><circle cx="6.2" cy="10" r="4.7"/><circle cx="13" cy="6.2" r="4.7"/><circle cx="20.5" cy="5.5" r="4.2"/><circle cx="26.8" cy="8.6" r="4.0"/><circle cx="24.5" cy="14" r="4.0"/><circle cx="16.5" cy="15" r="4.3"/><circle cx="9.5" cy="15" r="3.7"/></g><text x="15.2" y="13.6" text-anchor="middle" font-family="Liberation Sans" font-weight="bold" font-size="8.6" fill="#fff" stroke="#2f9a16" stroke-width="2" paint-order="stroke" stroke-linejoin="round" letter-spacing="-0.4">twinkl</text><text x="15.2" y="13.6" text-anchor="middle" font-family="Liberation Sans" font-weight="bold" font-size="8.6" fill="#fff" stroke="#fff" stroke-width="0.45" letter-spacing="-0.4">twinkl</text></svg>
<div class="stars" style="color:#2a9a10">★★</div>
</div></div>
<div class="psh" style="left:557px;z-index:24;clip-path:inset(-12px -12px -12px 0);"></div>
<div class="pg" style="left:557px;z-index:25"><div class="t" id="t2" style="top:24.42px;font-size:21px;font-weight:normal;color:#118c0e;letter-spacing:0.624px;left:22.5px;-webkit-text-stroke:0.1px currentColor;">Spring Multiplication Mosaic</div>
<div class="t tb" id="t10" style="top:59.31px;font-size:10.5px;font-weight:bold;color:#111;letter-spacing:0.158px;left:19.6px;">Multiplication 3x, 4x and 8x tables</div>
<div class="t" id="t11" style="top:74.21px;font-size:10.5px;font-weight:normal;color:#111;letter-spacing:0.322px;left:19.6px;">Solve the maths problems to reveal the hidden picture. Each answer has a</div>
<div class="t" id="t12" style="top:88.71px;font-size:10.5px;font-weight:normal;color:#111;letter-spacing:0.105px;left:19.6px;">special colour:</div>
<div class="t" id="t27" style="top:110.71px;font-size:10.5px;font-weight:normal;color:#111;letter-spacing:0.450px;left:22.8px;"><b>3, 4, 6, 9, 15, 21, 27, 36 or 56 </b><span class="sq"></span> blue</div>
<div class="t" id="t28" style="top:130.61px;font-size:10.5px;font-weight:normal;color:#111;letter-spacing:0.472px;left:46.9px;"><b>8, 12, 16, 20 or 30 </b><span class="sq"></span> purple</div>
<div class="t" id="t29" style="top:110.71px;font-size:10.5px;font-weight:normal;color:#111;letter-spacing:0.410px;left:234.5px;"><b>24, 32, 33, 40 or 48 </b><span class="sq"></span> green</div>
<div class="t" id="t30" style="top:130.61px;font-size:10.5px;font-weight:normal;color:#111;letter-spacing:0.505px;left:239.8px;"><b>28, 64, 72 or 80&nbsp; </b><span class="sq"></span> yellow</div>
<div class="lsh" style="left:274px;top:0"></div>
<svg class="gsv" style="left:0;top:0" width="408" height="597"><rect x="20.20" y="155.40" width="40.60" height="38.08" fill="#95c8e6"/><rect x="60.80" y="155.40" width="40.80" height="38.08" fill="#95c8e6"/><rect x="101.60" y="155.40" width="41.40" height="38.08" fill="#95c8e6"/><rect x="143.00" y="155.40" width="40.30" height="38.08" fill="#8e338e"/><rect x="183.30" y="155.40" width="41.40" height="38.08" fill="#8e338e"/><rect x="224.70" y="155.40" width="41.40" height="38.08" fill="#8e338e"/><rect x="266.10" y="155.40" width="41.10" height="38.08" fill="#95c8e6"/><rect x="20.20" y="193.48" width="40.60" height="38.08" fill="#95c8e6"/><rect x="60.80" y="193.48" width="40.80" height="38.08" fill="#95c8e6"/><rect x="101.60" y="193.48" width="41.40" height="38.08" fill="#8e338e"/><rect x="143.00" y="193.48" width="40.30" height="38.08" fill="#8e338e"/><rect x="183.30" y="193.48" width="41.40" height="38.08" fill="#8e338e"/><rect x="224.70" y="193.48" width="41.40" height="38.08" fill="#8e338e"/><rect x="266.10" y="193.48" width="41.10" height="38.08" fill="#8e338e"/><rect x="20.20" y="231.56" width="40.60" height="38.08" fill="#95c8e6"/><rect x="60.80" y="231.56" width="40.80" height="38.08" fill="#8e338e"/><rect x="101.60" y="231.56" width="41.40" height="38.08" fill="#8e338e"/><rect x="143.00" y="231.56" width="40.30" height="38.08" fill="#8e338e"/><rect x="183.30" y="231.56" width="41.40" height="38.08" fill="#ecc800"/><rect x="224.70" y="231.56" width="41.40" height="38.08" fill="#8e338e"/><rect x="266.10" y="231.56" width="41.10" height="38.08" fill="#8e338e"/><rect x="20.20" y="269.64" width="40.60" height="38.08" fill="#95c8e6"/><rect x="60.80" y="269.64" width="40.80" height="38.08" fill="#95c8e6"/><rect x="101.60" y="269.64" width="41.40" height="38.08" fill="#8e338e"/><rect x="143.00" y="269.64" width="40.30" height="38.08" fill="#8e338e"/><rect x="183.30" y="269.64" width="41.40" height="38.08" fill="#8e338e"/><rect x="224.70" y="269.64" width="41.40" height="38.08" fill="#8e338e"/><rect x="266.10" y="269.64" width="41.10" height="38.08" fill="#8e338e"/><rect x="20.20" y="307.72" width="40.60" height="38.08" fill="#95c8e6"/><rect x="60.80" y="307.72" width="40.80" height="38.08" fill="#95c8e6"/><rect x="101.60" y="307.72" width="41.40" height="38.08" fill="#95c8e6"/><rect x="143.00" y="307.72" width="40.30" height="38.08" fill="#8e338e"/><rect x="183.30" y="307.72" width="41.40" height="38.08" fill="#8e338e"/><rect x="224.70" y="307.72" width="41.40" height="38.08" fill="#8e338e"/><rect x="266.10" y="307.72" width="41.10" height="38.08" fill="#95c8e6"/><rect x="20.20" y="345.80" width="40.60" height="38.08" fill="#95c8e6"/><rect x="60.80" y="345.80" width="40.80" height="38.08" fill="#95c8e6"/><rect x="101.60" y="345.80" width="41.40" height="38.08" fill="#95c8e6"/><rect x="143.00" y="345.80" width="40.30" height="38.08" fill="#95c8e6"/><rect x="183.30" y="345.80" width="41.40" height="38.08" fill="#8cc43a"/><rect x="224.70" y="345.80" width="41.40" height="38.08" fill="#95c8e6"/><rect x="266.10" y="345.80" width="41.10" height="38.08" fill="#95c8e6"/><rect x="20.20" y="383.88" width="40.60" height="38.08" fill="#8cc43a"/><rect x="60.80" y="383.88" width="40.80" height="38.08" fill="#8cc43a"/><rect x="101.60" y="383.88" width="41.40" height="38.08" fill="#95c8e6"/><rect x="143.00" y="383.88" width="40.30" height="38.08" fill="#95c8e6"/><rect x="183.30" y="383.88" width="41.40" height="38.08" fill="#8cc43a"/><rect x="224.70" y="383.88" width="41.40" height="38.08" fill="#95c8e6"/><rect x="266.10" y="383.88" width="41.10" height="38.08" fill="#95c8e6"/><rect x="20.20" y="421.96" width="40.60" height="38.08" fill="#8cc43a"/><rect x="60.80" y="421.96" width="40.80" height="38.08" fill="#8cc43a"/><rect x="101.60" y="421.96" width="41.40" height="38.08" fill="#8cc43a"/><rect x="143.00" y="421.96" width="40.30" height="38.08" fill="#95c8e6"/><rect x="183.30" y="421.96" width="41.40" height="38.08" fill="#8cc43a"/><rect x="224.70" y="421.96" width="41.40" height="38.08" fill="#95c8e6"/><rect x="266.10" y="421.96" width="41.10" height="38.08" fill="#8cc43a"/><rect x="20.20" y="460.04" width="40.60" height="38.08" fill="#95c8e6"/><rect x="60.80" y="460.04" width="40.80" height="38.08" fill="#8cc43a"/><rect x="101.60" y="460.04" width="41.40" height="38.08" fill="#8cc43a"/><rect x="143.00" y="460.04" width="40.30" height="38.08" fill="#95c8e6"/><rect x="183.30" y="460.04" width="41.40" height="38.08" fill="#8cc43a"/><rect x="224.70" y="460.04" width="41.40" height="38.08" fill="#95c8e6"/><rect x="266.10" y="460.04" width="41.10" height="38.08" fill="#8cc43a"/><rect x="20.20" y="498.12" width="40.60" height="38.08" fill="#95c8e6"/><rect x="60.80" y="498.12" width="40.80" height="38.08" fill="#95c8e6"/><rect x="101.60" y="498.12" width="41.40" height="38.08" fill="#95c8e6"/><rect x="143.00" y="498.12" width="40.30" height="38.08" fill="#8cc43a"/><rect x="183.30" y="498.12" width="41.40" height="38.08" fill="#8cc43a"/><rect x="224.70" y="498.12" width="41.40" height="38.08" fill="#8cc43a"/><rect x="266.10" y="498.12" width="41.10" height="38.08" fill="#95c8e6"/><rect x="21.45" y="156.65" width="38.10" height="35.58" fill="none" stroke="#b5eeff" stroke-width="1"/><rect x="62.05" y="156.65" width="38.30" height="35.58" fill="none" stroke="#b5eeff" stroke-width="1"/><rect x="102.85" y="156.65" width="38.90" height="35.58" fill="none" stroke="#b5eeff" stroke-width="1"/><rect x="144.25" y="156.65" width="37.80" height="35.58" fill="none" stroke="#a53aa8" stroke-width="1"/><rect x="184.55" y="156.65" width="38.90" height="35.58" fill="none" stroke="#a53aa8" stroke-width="1"/><rect x="225.95" y="156.65" width="38.90" height="35.58" fill="none" stroke="#a53aa8" stroke-width="1"/><rect x="267.35" y="156.65" width="38.60" height="35.58" fill="none" stroke="#b5eeff" stroke-width="1"/><rect x="21.45" y="194.73" width="38.10" height="35.58" fill="none" stroke="#b5eeff" stroke-width="1"/><rect x="62.05" y="194.73" width="38.30" height="35.58" fill="none" stroke="#b5eeff" stroke-width="1"/><rect x="102.85" y="194.73" width="38.90" height="35.58" fill="none" stroke="#a53aa8" stroke-width="1"/><rect x="144.25" y="194.73" width="37.80" height="35.58" fill="none" stroke="#a53aa8" stroke-width="1"/><rect x="184.55" y="194.73" width="38.90" height="35.58" fill="none" stroke="#a53aa8" stroke-width="1"/><rect x="225.95" y="194.73" width="38.90" height="35.58" fill="none" stroke="#a53aa8" stroke-width="1"/><rect x="267.35" y="194.73" width="38.60" height="35.58" fill="none" stroke="#a53aa8" stroke-width="1"/><rect x="21.45" y="232.81" width="38.10" height="35.58" fill="none" stroke="#b5eeff" stroke-width="1"/><rect x="62.05" y="232.81" width="38.30" height="35.58" fill="none" stroke="#a53aa8" stroke-width="1"/><rect x="102.85" y="232.81" width="38.90" height="35.58" fill="none" stroke="#a53aa8" stroke-width="1"/><rect x="144.25" y="232.81" width="37.80" height="35.58" fill="none" stroke="#a53aa8" stroke-width="1"/><rect x="184.55" y="232.81" width="38.90" height="35.58" fill="none" stroke="#ffe400" stroke-width="1"/><rect x="225.95" y="232.81" width="38.90" height="35.58" fill="none" stroke="#a53aa8" stroke-width="1"/><rect x="267.35" y="232.81" width="38.60" height="35.58" fill="none" stroke="#a53aa8" stroke-width="1"/><rect x="21.45" y="270.89" width="38.10" height="35.58" fill="none" stroke="#b5eeff" stroke-width="1"/><rect x="62.05" y="270.89" width="38.30" height="35.58" fill="none" stroke="#b5eeff" stroke-width="1"/><rect x="102.85" y="270.89" width="38.90" height="35.58" fill="none" stroke="#a53aa8" stroke-width="1"/><rect x="144.25" y="270.89" width="37.80" height="35.58" fill="none" stroke="#a53aa8" stroke-width="1"/><rect x="184.55" y="270.89" width="38.90" height="35.58" fill="none" stroke="#a53aa8" stroke-width="1"/><rect x="225.95" y="270.89" width="38.90" height="35.58" fill="none" stroke="#a53aa8" stroke-width="1"/><rect x="267.35" y="270.89" width="38.60" height="35.58" fill="none" stroke="#a53aa8" stroke-width="1"/><rect x="21.45" y="308.97" width="38.10" height="35.58" fill="none" stroke="#b5eeff" stroke-width="1"/><rect x="62.05" y="308.97" width="38.30" height="35.58" fill="none" stroke="#b5eeff" stroke-width="1"/><rect x="102.85" y="308.97" width="38.90" height="35.58" fill="none" stroke="#b5eeff" stroke-width="1"/><rect x="144.25" y="308.97" width="37.80" height="35.58" fill="none" stroke="#a53aa8" stroke-width="1"/><rect x="184.55" y="308.97" width="38.90" height="35.58" fill="none" stroke="#a53aa8" stroke-width="1"/><rect x="225.95" y="308.97" width="38.90" height="35.58" fill="none" stroke="#a53aa8" stroke-width="1"/><rect x="267.35" y="308.97" width="38.60" height="35.58" fill="none" stroke="#b5eeff" stroke-width="1"/><rect x="21.45" y="347.05" width="38.10" height="35.58" fill="none" stroke="#b5eeff" stroke-width="1"/><rect x="62.05" y="347.05" width="38.30" height="35.58" fill="none" stroke="#b5eeff" stroke-width="1"/><rect x="102.85" y="347.05" width="38.90" height="35.58" fill="none" stroke="#b5eeff" stroke-width="1"/><rect x="144.25" y="347.05" width="37.80" height="35.58" fill="none" stroke="#b5eeff" stroke-width="1"/><rect x="184.55" y="347.05" width="38.90" height="35.58" fill="none" stroke="#a2e010" stroke-width="1"/><rect x="225.95" y="347.05" width="38.90" height="35.58" fill="none" stroke="#b5eeff" stroke-width="1"/><rect x="267.35" y="347.05" width="38.60" height="35.58" fill="none" stroke="#b5eeff" stroke-width="1"/><rect x="21.45" y="385.13" width="38.10" height="35.58" fill="none" stroke="#a2e010" stroke-width="1"/><rect x="62.05" y="385.13" width="38.30" height="35.58" fill="none" stroke="#a2e010" stroke-width="1"/><rect x="102.85" y="385.13" width="38.90" height="35.58" fill="none" stroke="#b5eeff" stroke-width="1"/><rect x="144.25" y="385.13" width="37.80" height="35.58" fill="none" stroke="#b5eeff" stroke-width="1"/><rect x="184.55" y="385.13" width="38.90" height="35.58" fill="none" stroke="#a2e010" stroke-width="1"/><rect x="225.95" y="385.13" width="38.90" height="35.58" fill="none" stroke="#b5eeff" stroke-width="1"/><rect x="267.35" y="385.13" width="38.60" height="35.58" fill="none" stroke="#b5eeff" stroke-width="1"/><rect x="21.45" y="423.21" width="38.10" height="35.58" fill="none" stroke="#a2e010" stroke-width="1"/><rect x="62.05" y="423.21" width="38.30" height="35.58" fill="none" stroke="#a2e010" stroke-width="1"/><rect x="102.85" y="423.21" width="38.90" height="35.58" fill="none" stroke="#a2e010" stroke-width="1"/><rect x="144.25" y="423.21" width="37.80" height="35.58" fill="none" stroke="#b5eeff" stroke-width="1"/><rect x="184.55" y="423.21" width="38.90" height="35.58" fill="none" stroke="#a2e010" stroke-width="1"/><rect x="225.95" y="423.21" width="38.90" height="35.58" fill="none" stroke="#b5eeff" stroke-width="1"/><rect x="267.35" y="423.21" width="38.60" height="35.58" fill="none" stroke="#a2e010" stroke-width="1"/><rect x="21.45" y="461.29" width="38.10" height="35.58" fill="none" stroke="#b5eeff" stroke-width="1"/><rect x="62.05" y="461.29" width="38.30" height="35.58" fill="none" stroke="#a2e010" stroke-width="1"/><rect x="102.85" y="461.29" width="38.90" height="35.58" fill="none" stroke="#a2e010" stroke-width="1"/><rect x="144.25" y="461.29" width="37.80" height="35.58" fill="none" stroke="#b5eeff" stroke-width="1"/><rect x="184.55" y="461.29" width="38.90" height="35.58" fill="none" stroke="#a2e010" stroke-width="1"/><rect x="225.95" y="461.29" width="38.90" height="35.58" fill="none" stroke="#b5eeff" stroke-width="1"/><rect x="267.35" y="461.29" width="38.60" height="35.58" fill="none" stroke="#a2e010" stroke-width="1"/><rect x="21.45" y="499.37" width="38.10" height="35.58" fill="none" stroke="#b5eeff" stroke-width="1"/><rect x="62.05" y="499.37" width="38.30" height="35.58" fill="none" stroke="#b5eeff" stroke-width="1"/><rect x="102.85" y="499.37" width="38.90" height="35.58" fill="none" stroke="#b5eeff" stroke-width="1"/><rect x="144.25" y="499.37" width="37.80" height="35.58" fill="none" stroke="#a2e010" stroke-width="1"/><rect x="184.55" y="499.37" width="38.90" height="35.58" fill="none" stroke="#a2e010" stroke-width="1"/><rect x="225.95" y="499.37" width="38.90" height="35.58" fill="none" stroke="#a2e010" stroke-width="1"/><rect x="267.35" y="499.37" width="38.60" height="35.58" fill="none" stroke="#b5eeff" stroke-width="1"/><path d="M20.20 155.40V536.20M60.80 155.40V536.20M101.60 155.40V536.20M143.00 155.40V536.20M183.30 155.40V536.20M224.70 155.40V536.20M266.10 155.40V536.20M307.20 155.40V536.20M20.20 155.40H307.20M20.20 193.48H307.20M20.20 231.56H307.20M20.20 269.64H307.20M20.20 307.72H307.20M20.20 345.80H307.20M20.20 383.88H307.20M20.20 421.96H307.20M20.20 460.04H307.20M20.20 498.12H307.20M20.20 536.20H307.20" stroke="#000" stroke-width="1.5" fill="none" stroke-linecap="square"/><text class="lt" x="40.50" y="178.19">3 x 1</text><text class="lt" x="81.20" y="178.19">12 x 3</text><text class="lt" x="122.30" y="178.19">1 x 4</text><text class="dk dv3" x="163.15" y="178.19">3 x 4</text><text class="dk dv3" x="204.00" y="178.19">8 x 1</text><text class="dk dv3" x="245.40" y="178.19">4 x 3</text><text class="lt" x="286.65" y="178.19">5 x 3</text><text class="lt" x="40.50" y="216.27">7 x 3</text><text class="lt" x="81.20" y="216.27">3 x 5</text><text class="dk dv3" x="122.30" y="216.27">4 x 2</text><text class="dk dv3" x="163.15" y="216.27">4 x 5</text><text class="dk dv3" x="204.00" y="216.27">5 x 4</text><text class="dk dv3" x="245.40" y="216.27">10 x 3</text><text class="dk dv3" x="286.65" y="216.27">8 x 2</text><text class="lt" x="40.50" y="254.35">4 x 1</text><text class="dk dv3" x="81.20" y="254.35">4 x 5</text><text class="dk dv3" x="122.30" y="254.35">5 x 4</text><text class="dk dv3" x="163.15" y="254.35">1 x 8</text><text class="lt" x="204.00" y="254.35">7 x 4</text><text class="dk dv3" x="245.40" y="254.35">5 x 4</text><text class="dk dv3" x="286.65" y="254.35">3 x 10</text><text class="lt" x="40.50" y="292.43">2 x 3</text><text class="lt" x="81.20" y="292.43">8 x 7</text><text class="dk dv3" x="122.30" y="292.43">3 x 10</text><text class="dk dv3" x="163.15" y="292.43">2 x 4</text><text class="dk dv3" x="204.00" y="292.43">2 x 8</text><text class="dk dv3" x="245.40" y="292.43">4 x 3</text><text class="dk dv3" x="286.65" y="292.43">2 x 4</text><text class="lt" x="40.50" y="330.51">4 x 9</text><text class="lt" x="81.20" y="330.51">1 x 3</text><text class="lt" x="122.30" y="330.51">3 x 3</text><text class="dk dv3" x="163.15" y="330.51">4 x 3</text><text class="dk dv3" x="204.00" y="330.51">4 x 4</text><text class="dk dv3" x="245.40" y="330.51">3 x 10</text><text class="lt" x="286.65" y="330.51">3 x 3</text><text class="lt" x="40.50" y="368.59">3 x 2</text><text class="lt" x="81.20" y="368.59">9 x 3</text><text class="lt" x="122.30" y="368.59">3 x 12</text><text class="lt" x="163.15" y="368.59">3 x 7</text><text class="lt" x="204.00" y="368.59">8 x 3</text><text class="lt" x="245.40" y="368.59">3 x 1</text><text class="lt" x="286.65" y="368.59">12 x 3</text><text class="lt" x="40.50" y="406.67">4 x 12</text><text class="lt" x="81.20" y="406.67">3 x 11</text><text class="lt" x="122.30" y="406.67">5 x 3</text><text class="lt" x="163.15" y="406.67">9 x 4</text><text class="lt" x="204.00" y="406.67">4 x 6</text><text class="lt" x="245.40" y="406.67">7 x 3</text><text class="lt" x="286.65" y="406.67">3 x 3</text><text class="lt" x="40.50" y="444.75">6 x 4</text><text class="lt" x="81.20" y="444.75">6 x 8</text><text class="lt" x="122.30" y="444.75">5 x 8</text><text class="lt" x="163.15" y="444.75">3 x 9</text><text class="lt" x="204.00" y="444.75">4 x 10</text><text class="lt" x="245.40" y="444.75">1 x 3</text><text class="lt" x="286.65" y="444.75">8 x 5</text><text class="lt" x="40.50" y="482.83">3 x 9</text><text class="lt" x="81.20" y="482.83">10 x 4</text><text class="lt" x="122.30" y="482.83">3 x 8</text><text class="lt" x="163.15" y="482.83">7 x 8</text><text class="lt" x="204.00" y="482.83">6 x 8</text><text class="lt" x="245.40" y="482.83">2 x 3</text><text class="lt" x="286.65" y="482.83">12 x 4</text><text class="lt" x="40.50" y="520.91">7 x 8</text><text class="lt" x="81.20" y="520.91">12 x 3</text><text class="lt" x="122.30" y="520.91">1 x 4</text><text class="lt" x="163.15" y="520.91">4 x 8</text><text class="lt" x="204.00" y="520.91">8 x 6</text><text class="lt" x="245.40" y="520.91">4 x 6</text><text class="lt" x="286.65" y="520.91">8 x 7</text></svg>
<div style="position:absolute;left:0px;top:0">
<div class="fl" style="background:#1c7508"></div>
<svg class="logo" width="33" height="21" viewBox="0 0 33 21"><g fill="#2f9a16"><circle cx="6.2" cy="10" r="6"/><circle cx="13" cy="6.2" r="6"/><circle cx="20.5" cy="5.5" r="5.5"/><circle cx="26.8" cy="8.6" r="5.3"/><circle cx="24.5" cy="14" r="5.3"/><circle cx="16.5" cy="15" r="5.6"/><circle cx="9.5" cy="15" r="5"/></g><g fill="#7cc03a"><circle cx="6.2" cy="10" r="4.7"/><circle cx="13" cy="6.2" r="4.7"/><circle cx="20.5" cy="5.5" r="4.2"/><circle cx="26.8" cy="8.6" r="4.0"/><circle cx="24.5" cy="14" r="4.0"/><circle cx="16.5" cy="15" r="4.3"/><circle cx="9.5" cy="15" r="3.7"/></g><text x="15.2" y="13.6" text-anchor="middle" font-family="Liberation Sans" font-weight="bold" font-size="8.6" fill="#fff" stroke="#2f9a16" stroke-width="2" paint-order="stroke" stroke-linejoin="round" letter-spacing="-0.4">twinkl</text><text x="15.2" y="13.6" text-anchor="middle" font-family="Liberation Sans" font-weight="bold" font-size="8.6" fill="#fff" stroke="#fff" stroke-width="0.45" letter-spacing="-0.4">twinkl</text></svg>
<div class="stars" style="color:#2a9a10">★</div>
</div></div>
<div class="psh" style="left:838px;z-index:34;clip-path:inset(-12px -12px -12px 0);"></div>
<div class="pg" style="left:838px;z-index:35"><div class="t tb" id="t3" style="top:24.90px;font-size:21.5px;font-weight:bold;color:#111;letter-spacing:-0.017px;left:204px;transform:translateX(-50%);">Spring Multiplication Mosaic</div>
<div class="t tb" id="t13" style="top:59.31px;font-size:10.5px;font-weight:bold;color:#111;letter-spacing:0.158px;left:19.6px;">Multiplication 3x, 4x and 8x tables</div>
<div class="t" id="t14" style="top:74.21px;font-size:10.5px;font-weight:normal;color:#111;letter-spacing:0.322px;left:19.6px;">Solve the maths problems to reveal the hidden picture. Each answer has a</div>
<div class="t" id="t15" style="top:88.71px;font-size:10.5px;font-weight:normal;color:#111;letter-spacing:0.105px;left:19.6px;">special colour:</div>
<div class="t" id="t31" style="top:110.71px;font-size:10.5px;font-weight:normal;color:#111;letter-spacing:0.450px;left:22.8px;"><b>3, 4, 6, 9, 15, 21, 27, 36 or 56 </b><span class="sq"></span> blue</div>
<div class="t" id="t32" style="top:130.61px;font-size:10.5px;font-weight:normal;color:#111;letter-spacing:0.472px;left:46.9px;"><b>8, 12, 16, 20 or 30 </b><span class="sq"></span> purple</div>
<div class="t" id="t33" style="top:110.71px;font-size:10.5px;font-weight:normal;color:#111;letter-spacing:0.410px;left:234.5px;"><b>24, 32, 33, 40 or 48 </b><span class="sq"></span> green</div>
<div class="t" id="t34" style="top:130.61px;font-size:10.5px;font-weight:normal;color:#111;letter-spacing:0.505px;left:239.8px;"><b>28, 64, 72 or 80&nbsp; </b><span class="sq"></span> yellow</div>
<svg class="gsv" style="left:0;top:0" width="408" height="597"><rect x="19.60" y="155.40" width="40.70" height="38.08" fill="#ffffff"/><rect x="60.30" y="155.40" width="40.60" height="38.08" fill="#ffffff"/><rect x="100.90" y="155.40" width="41.80" height="38.08" fill="#ffffff"/><rect x="142.70" y="155.40" width="40.40" height="38.08" fill="#ffffff"/><rect x="183.10" y="155.40" width="41.70" height="38.08" fill="#ffffff"/><rect x="224.80" y="155.40" width="41.30" height="38.08" fill="#ffffff"/><rect x="266.10" y="155.40" width="40.90" height="38.08" fill="#ffffff"/><rect x="307.00" y="155.40" width="40.60" height="38.08" fill="#ffffff"/><rect x="347.60" y="155.40" width="40.80" height="38.08" fill="#ffffff"/><rect x="19.60" y="193.48" width="40.70" height="38.08" fill="#ffffff"/><rect x="60.30" y="193.48" width="40.60" height="38.08" fill="#ffffff"/><rect x="100.90" y="193.48" width="41.80" height="38.08" fill="#ffffff"/><rect x="142.70" y="193.48" width="40.40" height="38.08" fill="#ffffff"/><rect x="183.10" y="193.48" width="41.70" height="38.08" fill="#ffffff"/><rect x="224.80" y="193.48" width="41.30" height="38.08" fill="#ffffff"/><rect x="266.10" y="193.48" width="40.90" height="38.08" fill="#ffffff"/><rect x="307.00" y="193.48" width="40.60" height="38.08" fill="#ffffff"/><rect x="347.60" y="193.48" width="40.80" height="38.08" fill="#ffffff"/><rect x="19.60" y="231.56" width="40.70" height="38.08" fill="#ffffff"/><rect x="60.30" y="231.56" width="40.60" height="38.08" fill="#ffffff"/><rect x="100.90" y="231.56" width="41.80" height="38.08" fill="#ffffff"/><rect x="142.70" y="231.56" width="40.40" height="38.08" fill="#ffffff"/><rect x="183.10" y="231.56" width="41.70" height="38.08" fill="#ffffff"/><rect x="224.80" y="231.56" width="41.30" height="38.08" fill="#ffffff"/><rect x="266.10" y="231.56" width="40.90" height="38.08" fill="#ffffff"/><rect x="307.00" y="231.56" width="40.60" height="38.08" fill="#ffffff"/><rect x="347.60" y="231.56" width="40.80" height="38.08" fill="#ffffff"/><rect x="19.60" y="269.64" width="40.70" height="38.08" fill="#ffffff"/><rect x="60.30" y="269.64" width="40.60" height="38.08" fill="#ffffff"/><rect x="100.90" y="269.64" width="41.80" height="38.08" fill="#ffffff"/><rect x="142.70" y="269.64" width="40.40" height="38.08" fill="#ffffff"/><rect x="183.10" y="269.64" width="41.70" height="38.08" fill="#ffffff"/><rect x="224.80" y="269.64" width="41.30" height="38.08" fill="#ffffff"/><rect x="266.10" y="269.64" width="40.90" height="38.08" fill="#ffffff"/><rect x="307.00" y="269.64" width="40.60" height="38.08" fill="#ffffff"/><rect x="347.60" y="269.64" width="40.80" height="38.08" fill="#ffffff"/><rect x="19.60" y="307.72" width="40.70" height="38.08" fill="#ffffff"/><rect x="60.30" y="307.72" width="40.60" height="38.08" fill="#ffffff"/><rect x="100.90" y="307.72" width="41.80" height="38.08" fill="#ffffff"/><rect x="142.70" y="307.72" width="40.40" height="38.08" fill="#ffffff"/><rect x="183.10" y="307.72" width="41.70" height="38.08" fill="#ffffff"/><rect x="224.80" y="307.72" width="41.30" height="38.08" fill="#ffffff"/><rect x="266.10" y="307.72" width="40.90" height="38.08" fill="#ffffff"/><rect x="307.00" y="307.72" width="40.60" height="38.08" fill="#ffffff"/><rect x="347.60" y="307.72" width="40.80" height="38.08" fill="#ffffff"/><rect x="19.60" y="345.80" width="40.70" height="38.08" fill="#ffffff"/><rect x="60.30" y="345.80" width="40.60" height="38.08" fill="#ffffff"/><rect x="100.90" y="345.80" width="41.80" height="38.08" fill="#ffffff"/><rect x="142.70" y="345.80" width="40.40" height="38.08" fill="#ffffff"/><rect x="183.10" y="345.80" width="41.70" height="38.08" fill="#ffffff"/><rect x="224.80" y="345.80" width="41.30" height="38.08" fill="#ffffff"/><rect x="266.10" y="345.80" width="40.90" height="38.08" fill="#ffffff"/><rect x="307.00" y="345.80" width="40.60" height="38.08" fill="#ffffff"/><rect x="347.60" y="345.80" width="40.80" height="38.08" fill="#ffffff"/><rect x="19.60" y="383.88" width="40.70" height="38.08" fill="#ffffff"/><rect x="60.30" y="383.88" width="40.60" height="38.08" fill="#ffffff"/><rect x="100.90" y="383.88" width="41.80" height="38.08" fill="#ffffff"/><rect x="142.70" y="383.88" width="40.40" height="38.08" fill="#ffffff"/><rect x="183.10" y="383.88" width="41.70" height="38.08" fill="#ffffff"/><rect x="224.80" y="383.88" width="41.30" height="38.08" fill="#ffffff"/><rect x="266.10" y="383.88" width="40.90" height="38.08" fill="#ffffff"/><rect x="307.00" y="383.88" width="40.60" height="38.08" fill="#ffffff"/><rect x="347.60" y="383.88" width="40.80" height="38.08" fill="#ffffff"/><rect x="19.60" y="421.96" width="40.70" height="38.08" fill="#ffffff"/><rect x="60.30" y="421.96" width="40.60" height="38.08" fill="#ffffff"/><rect x="100.90" y="421.96" width="41.80" height="38.08" fill="#ffffff"/><rect x="142.70" y="421.96" width="40.40" height="38.08" fill="#ffffff"/><rect x="183.10" y="421.96" width="41.70" height="38.08" fill="#ffffff"/><rect x="224.80" y="421.96" width="41.30" height="38.08" fill="#ffffff"/><rect x="266.10" y="421.96" width="40.90" height="38.08" fill="#ffffff"/><rect x="307.00" y="421.96" width="40.60" height="38.08" fill="#ffffff"/><rect x="347.60" y="421.96" width="40.80" height="38.08" fill="#ffffff"/><rect x="19.60" y="460.04" width="40.70" height="38.08" fill="#ffffff"/><rect x="60.30" y="460.04" width="40.60" height="38.08" fill="#ffffff"/><rect x="100.90" y="460.04" width="41.80" height="38.08" fill="#ffffff"/><rect x="142.70" y="460.04" width="40.40" height="38.08" fill="#ffffff"/><rect x="183.10" y="460.04" width="41.70" height="38.08" fill="#ffffff"/><rect x="224.80" y="460.04" width="41.30" height="38.08" fill="#ffffff"/><rect x="266.10" y="460.04" width="40.90" height="38.08" fill="#ffffff"/><rect x="307.00" y="460.04" width="40.60" height="38.08" fill="#ffffff"/><rect x="347.60" y="460.04" width="40.80" height="38.08" fill="#ffffff"/><rect x="19.60" y="498.12" width="40.70" height="38.08" fill="#ffffff"/><rect x="60.30" y="498.12" width="40.60" height="38.08" fill="#ffffff"/><rect x="100.90" y="498.12" width="41.80" height="38.08" fill="#ffffff"/><rect x="142.70" y="498.12" width="40.40" height="38.08" fill="#ffffff"/><rect x="183.10" y="498.12" width="41.70" height="38.08" fill="#ffffff"/><rect x="224.80" y="498.12" width="41.30" height="38.08" fill="#ffffff"/><rect x="266.10" y="498.12" width="40.90" height="38.08" fill="#ffffff"/><rect x="307.00" y="498.12" width="40.60" height="38.08" fill="#ffffff"/><rect x="347.60" y="498.12" width="40.80" height="38.08" fill="#ffffff"/><path d="M19.60 155.40V536.20M60.30 155.40V536.20M100.90 155.40V536.20M142.70 155.40V536.20M183.10 155.40V536.20M224.80 155.40V536.20M266.10 155.40V536.20M307.00 155.40V536.20M347.60 155.40V536.20M388.40 155.40V536.20M19.60 155.40H388.40M19.60 193.48H388.40M19.60 231.56H388.40M19.60 269.64H388.40M19.60 307.72H388.40M19.60 345.80H388.40M19.60 383.88H388.40M19.60 421.96H388.40M19.60 460.04H388.40M19.60 498.12H388.40M19.60 536.20H388.40" stroke="#000" stroke-width="1.5" fill="none" stroke-linecap="square"/><text class="bw" x="39.95" y="178.19">3 x 1</text><text class="bw" x="80.60" y="178.19">12 x 3</text><text class="bw" x="121.80" y="178.19">1 x 4</text><text class="bw" x="162.90" y="178.19">3 x 4</text><text class="bw" x="203.95" y="178.19">8 x 1</text><text class="bw" x="245.45" y="178.19">4 x 3</text><text class="bw" x="286.55" y="178.19">5 x 3</text><text class="bw" x="327.30" y="178.19">9 x 4</text><text class="bw" x="368.00" y="178.19">3 x 3</text><text class="bw" x="39.95" y="216.27">7 x 3</text><text class="bw" x="80.60" y="216.27">3 x 5</text><text class="bw" x="121.80" y="216.27">4 x 2</text><text class="bw" x="162.90" y="216.27">4 x 5</text><text class="bw" x="203.95" y="216.27">5 x 4</text><text class="bw" x="245.45" y="216.27">10 x 3</text><text class="bw" x="286.55" y="216.27">8 x 2</text><text class="bw" x="327.30" y="216.27">4 x 9</text><text class="bw" x="368.00" y="216.27">3 x 12</text><text class="bw" x="39.95" y="254.35">4 x 1</text><text class="bw" x="80.60" y="254.35">4 x 5</text><text class="bw" x="121.80" y="254.35">5 x 4</text><text class="bw" x="162.90" y="254.35">1 x 8</text><text class="bw" x="203.95" y="254.35">7 x 4</text><text class="bw" x="245.45" y="254.35">5 x 4</text><text class="bw" x="286.55" y="254.35">3 x 10</text><text class="bw" x="327.30" y="254.35">2 x 4</text><text class="bw" x="368.00" y="254.35">5 x 3</text><text class="bw" x="39.95" y="292.43">2 x 3</text><text class="bw" x="80.60" y="292.43">8 x 7</text><text class="bw" x="121.80" y="292.43">3 x 10</text><text class="bw" x="162.90" y="292.43">2 x 4</text><text class="bw" x="203.95" y="292.43">2 x 8</text><text class="bw" x="245.45" y="292.43">4 x 3</text><text class="bw" x="286.55" y="292.43">2 x 4</text><text class="bw" x="327.30" y="292.43">7 x 3</text><text class="bw" x="368.00" y="292.43">4 x 9</text><text class="bw" x="39.95" y="330.51">4 x 9</text><text class="bw" x="80.60" y="330.51">1 x 3</text><text class="bw" x="121.80" y="330.51">3 x 3</text><text class="bw" x="162.90" y="330.51">4 x 3</text><text class="bw" x="203.95" y="330.51">4 x 4</text><text class="bw" x="245.45" y="330.51">3 x 10</text><text class="bw" x="286.55" y="330.51">3 x 3</text><text class="bw" x="327.30" y="330.51">4 x 1</text><text class="bw" x="368.00" y="330.51">3 x 2</text><text class="bw" x="39.95" y="368.59">3 x 2</text><text class="bw" x="80.60" y="368.59">9 x 3</text><text class="bw" x="121.80" y="368.59">3 x 12</text><text class="bw" x="162.90" y="368.59">3 x 7</text><text class="bw" x="203.95" y="368.59">8 x 3</text><text class="bw" x="245.45" y="368.59">3 x 1</text><text class="bw" x="286.55" y="368.59">12 x 3</text><text class="bw" x="327.30" y="368.59">1 x 4</text><text class="bw" x="368.00" y="368.59">12 x 3</text><text class="bw" x="39.95" y="406.67">4 x 12</text><text class="bw" x="80.60" y="406.67">3 x 11</text><text class="bw" x="121.80" y="406.67">5 x 3</text><text class="bw" x="162.90" y="406.67">9 x 4</text><text class="bw" x="203.95" y="406.67">4 x 6</text><text class="bw" x="245.45" y="406.67">7 x 3</text><text class="bw" x="286.55" y="406.67">3 x 3</text><text class="bw" x="327.30" y="406.67">6 x 8</text><text class="bw" x="368.00" y="406.67">8 x 4</text><text class="bw" x="39.95" y="444.75">6 x 4</text><text class="bw" x="80.60" y="444.75">6 x 8</text><text class="bw" x="121.80" y="444.75">5 x 8</text><text class="bw" x="162.90" y="444.75">3 x 9</text><text class="bw" x="203.95" y="444.75">4 x 10</text><text class="bw" x="245.45" y="444.75">1 x 3</text><text class="bw" x="286.55" y="444.75">8 x 5</text><text class="bw" x="327.30" y="444.75">11 x 3</text><text class="bw" x="368.00" y="444.75">3 x 11</text><text class="bw" x="39.95" y="482.83">3 x 9</text><text class="bw" x="80.60" y="482.83">10 x 4</text><text class="bw" x="121.80" y="482.83">3 x 8</text><text class="bw" x="162.90" y="482.83">7 x 8</text><text class="bw" x="203.95" y="482.83">6 x 8</text><text class="bw" x="245.45" y="482.83">2 x 3</text><text class="bw" x="286.55" y="482.83">12 x 4</text><text class="bw" x="327.30" y="482.83">10 x 4</text><text class="bw" x="368.00" y="482.83">3 x 3</text><text class="bw" x="39.95" y="520.91">7 x 8</text><text class="bw" x="80.60" y="520.91">12 x 3</text><text class="bw" x="121.80" y="520.91">1 x 4</text><text class="bw" x="162.90" y="520.91">4 x 8</text><text class="bw" x="203.95" y="520.91">8 x 6</text><text class="bw" x="245.45" y="520.91">4 x 6</text><text class="bw" x="286.55" y="520.91">8 x 7</text><text class="bw" x="327.30" y="520.91">3 x 3</text><text class="bw" x="368.00" y="520.91">3 x 3</text></svg>
<div style="position:absolute;left:0px;top:0">
<div class="fl" style="background:#111"></div>
<svg class="logo" width="33" height="21" viewBox="0 0 33 21"><g fill="#111"><circle cx="6.2" cy="10" r="6"/><circle cx="13" cy="6.2" r="6"/><circle cx="20.5" cy="5.5" r="5.5"/><circle cx="26.8" cy="8.6" r="5.3"/><circle cx="24.5" cy="14" r="5.3"/><circle cx="16.5" cy="15" r="5.6"/><circle cx="9.5" cy="15" r="5"/></g><text x="15.2" y="13.6" text-anchor="middle" font-family="Liberation Sans" font-weight="bold" font-size="8.6" fill="#fff" stroke="#111" stroke-width="2" paint-order="stroke" stroke-linejoin="round" letter-spacing="-0.4">twinkl</text><text x="15.2" y="13.6" text-anchor="middle" font-family="Liberation Sans" font-weight="bold" font-size="8.6" fill="#fff" stroke="#fff" stroke-width="0.45" letter-spacing="-0.4">twinkl</text></svg>
<div class="stars" style="color:#111">★</div>
</div></div><svg class="ecosvg" width="320" height="160" viewBox="940 470 320 160"><rect x="966.5" y="531.2" width="310" height="63.6" rx="2.5" fill="#7cab42" stroke="#17820a" stroke-width="1.6"/><text transform="translate(983.6 574.3) scale(0.84 1)" font-family="Liberation Sans" font-size="34.5" fill="#fff" stroke="#2f8c0c" stroke-width="3.2" stroke-linejoin="round" textLength="174" lengthAdjust="spacing">ink saving</text><text transform="translate(983.6 574.3) scale(0.84 1)" font-family="Liberation Sans" font-size="34.5" fill="#fff" stroke="#fff" stroke-width="0.9" textLength="174" lengthAdjust="spacing">ink saving</text><path d="M1184.3 482 C1195 504 1222.3 532 1222.3 563 C1222.3 586 1205 603.8 1184.4 603.8 C1164 603.8 1146.6 586 1146.6 563 C1146.6 532 1173.5 504 1184.3 482 Z" fill="#8fc642" stroke="#6cae2c" stroke-width="1.1"/><rect x="1183" y="532" width="4.6" height="72" fill="#c0e08a" opacity=".75"/><rect x="1183" y="603.8" width="4.6" height="10.5" fill="#9acd3a"/><text x="1157.6" y="572.4" font-family="Liberation Sans" font-weight="bold" font-size="33" fill="#fff" stroke="#3f9414" stroke-width="2.6" stroke-linejoin="round" paint-order="stroke" textLength="57" lengthAdjust="spacingAndGlyphs">Eco</text></svg></body></html>
